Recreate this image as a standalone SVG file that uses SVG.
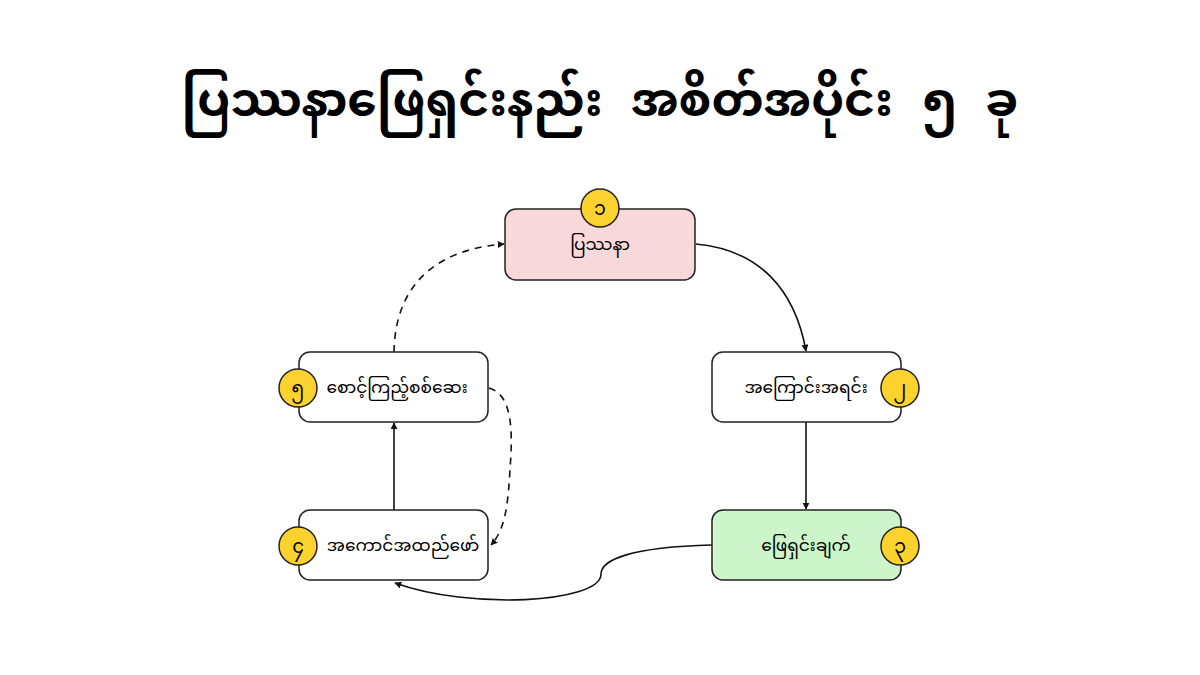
<svg xmlns="http://www.w3.org/2000/svg" width="1200" height="675" viewBox="0 0 1200 675">
<style>
.t{font-family:"Noto Sans Myanmar","Padauk","Myanmar Text","Noto Sans",sans-serif;fill:#000}
.box{stroke:#222;stroke-width:1.5}
.badge{fill:#fcd22e;stroke:#222;stroke-width:1.5}
.lbl{font-size:17px;text-anchor:middle}
.num{font-size:19px;text-anchor:middle}
.c{fill:none;stroke:#111;stroke-width:1.6}
.d{stroke-dasharray:7 6}
</style>
<defs>
<marker id="ah" viewBox="0 0 10 10" refX="9" refY="5" markerWidth="7" markerHeight="7" orient="auto-start-reverse" markerUnits="userSpaceOnUse"><path d="M0,0 L10,5 L0,10 z" fill="#111"/></marker>
</defs>
<rect width="1200" height="675" fill="#fff"/>
<text class="t" x="600" y="116" font-size="47" font-weight="bold" text-anchor="middle" word-spacing="16">ပြဿနာဖြေရှင်းနည်း အစိတ်အပိုင်း ၅ ခု</text>
<g id="connectors">
<path class="c" d="M696,244 C760,250 795,290 806,351" marker-end="url(#ah)"/>
<path class="c" d="M806,422 L806,509" marker-end="url(#ah)"/>
<path class="c" d="M712,545 C630,547 600,560 601,575 C598,603 470,610 395,583" marker-end="url(#ah)"/>
<path class="c" d="M394,510 L394,423" marker-end="url(#ah)"/>
<path class="c d" d="M394,352 C395,290 430,250 504,244" marker-end="url(#ah)"/>
<path class="c d" d="M489,388 C515,395 512,440 510,470 C508,505 505,530 491,545" marker-end="url(#ah)"/>
</g>
<g id="n1">
<rect class="box" x="505" y="209" width="190" height="71" rx="11" fill="#f8d8da"/>
<circle class="badge" cx="600" cy="208" r="19"/>
<text class="t num" x="600" y="215">၁</text>
<text class="t lbl" x="600" y="250">ပြဿနာ</text>
</g>
<g id="n2">
<rect class="box" x="712" y="352" width="189" height="70" rx="11" fill="#fff"/>
<circle class="badge" cx="900" cy="388" r="19"/>
<text class="t num" x="900" y="395">၂</text>
<text class="t lbl" x="806" y="393">အကြောင်းအရင်း</text>
</g>
<g id="n3">
<rect class="box" x="712" y="510" width="189" height="70" rx="11" fill="#ccf5c9"/>
<circle class="badge" cx="900" cy="546" r="19"/>
<text class="t num" x="900" y="553">၃</text>
<text class="t lbl" x="806" y="551">ဖြေရှင်းချက်</text>
</g>
<g id="n4">
<rect class="box" x="299" y="510" width="189" height="70" rx="11" fill="#fff"/>
<circle class="badge" cx="298" cy="546" r="19"/>
<text class="t num" x="298" y="553">၄</text>
<text class="t lbl" x="403" y="551">အကောင်အထည်ဖော်</text>
</g>
<g id="n5">
<rect class="box" x="299" y="352" width="189" height="70" rx="11" fill="#fff"/>
<circle class="badge" cx="298" cy="388" r="19"/>
<text class="t num" x="298" y="395">၅</text>
<text class="t lbl" x="397" y="393">စောင့်ကြည့်စစ်ဆေး</text>
</g>
</svg>
